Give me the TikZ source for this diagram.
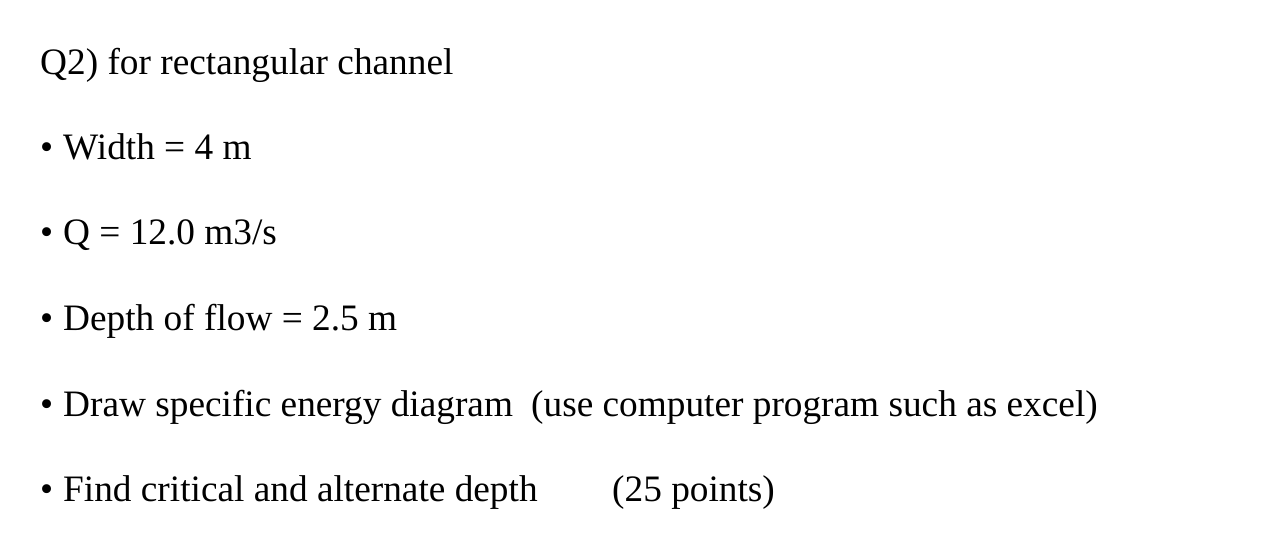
\documentclass[tikz,border=0pt]{standalone}
\usepackage{fontspec}
\setmainfont{Liberation Serif}
\begin{document}
\begin{tikzpicture}[x=1pt,y=1pt,
  txt/.style={anchor=base west,inner sep=0pt,font=\fontsize{37.3}{42}\selectfont}]
\useasboundingbox (0,0) rectangle (1286,540);
\node[txt] (q) at (40,465) {Q2) for rectangular channel};
\foreach \y/\n in {380/d1,295/d2,209/d3,123/d4,38/d5}{\node[txt] (\n) at (40,\y) {•};}
\node[txt] (b1) at (63,380) {Width = 4 m};
\node[txt] (b2) at (63,295) {Q = 12.0 m3/s};
\node[txt] (b3) at (63,209) {Depth of flow = 2.5 m};
\node[txt] (b4) at (63,123) {Draw specific energy diagram};
\node[txt] (b4b) at (531,123) {(use computer program such as excel)};
\node[txt] (b5) at (63,38) {Find critical and alternate depth};
\node[txt] (b5b) at (612,38) {(25 points)};
\end{tikzpicture}
\end{document}
